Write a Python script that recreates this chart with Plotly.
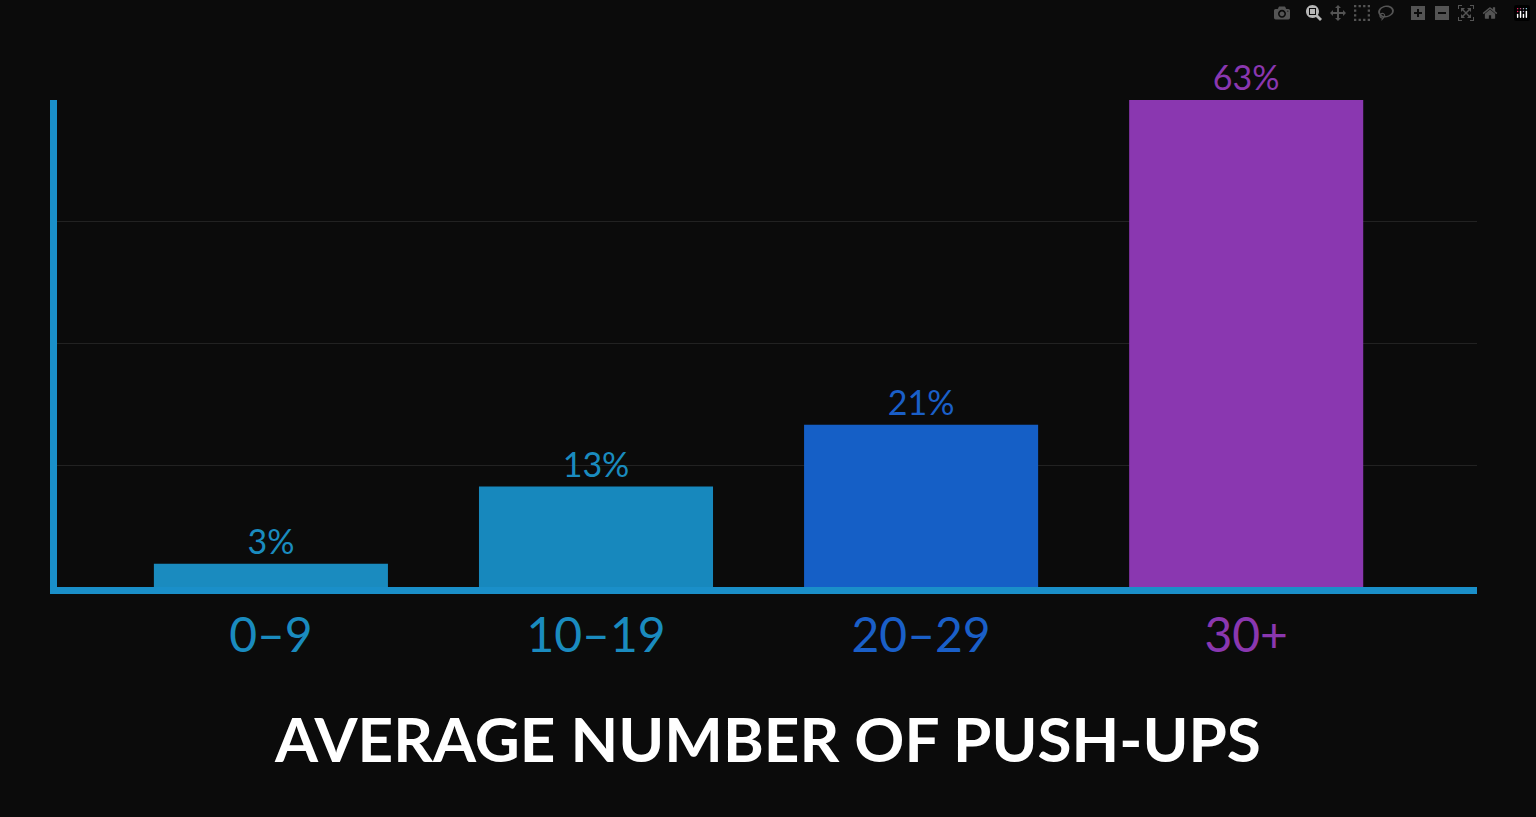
import plotly.graph_objects as go

categories = ["0–9", "10–19", "20–29", "30+"]
values = [3, 13, 21, 63]
labels = ["3%", "13%", "21%", "63%"]
bar_colors = ["#1a8bbf", "#1788bd", "#155fc6", "#8a37b0"]
text_colors = ["#1a8bbf", "#1a8bbf", "#1a5fc8", "#8a37b0"]

ticktext = [f"<span style='color:{c}'>{t}</span>" for t, c in zip(categories, text_colors)]

fig = go.Figure(go.Bar(
    x=list(range(len(categories))), y=values, marker_color=bar_colors, marker_line_width=0,
    width=0.72, text=labels, textposition="outside", cliponaxis=False,
    textfont=dict(size=34, color=text_colors, family="Lato"),
))
fig.update_layout(
    width=1536, height=817, paper_bgcolor="#0b0b0b", plot_bgcolor="#0b0b0b",
    margin=dict(l=57, r=59, t=100, b=230), showlegend=False,
    font=dict(family="Lato"),
    xaxis=dict(range=[-0.658, 3.71], tickvals=list(range(4)), ticktext=ticktext,
               tickfont=dict(size=48), showline=True, linecolor="#1a8fc9", linewidth=7,
               showgrid=False, zeroline=False, ticks="", ticklen=0),
    yaxis=dict(range=[0, 63], dtick=15.75, showticklabels=False, showline=True,
               linecolor="#1a8fc9", linewidth=7, gridcolor="#222222", gridwidth=1,
               zeroline=False),
    annotations=[dict(text="<b>AVERAGE NUMBER OF PUSH-UPS</b>", x=0.5, xref="paper",
                      y=-(738 - 587) / 487, yref="paper", yanchor="middle", showarrow=False,
                      font=dict(size=62, color="white", family="Lato"))],
)
fig.write_html("out.html", post_script="document.body.style.margin='0';document.body.style.background='#0b0b0b';document.body.style.overflow='hidden';")
